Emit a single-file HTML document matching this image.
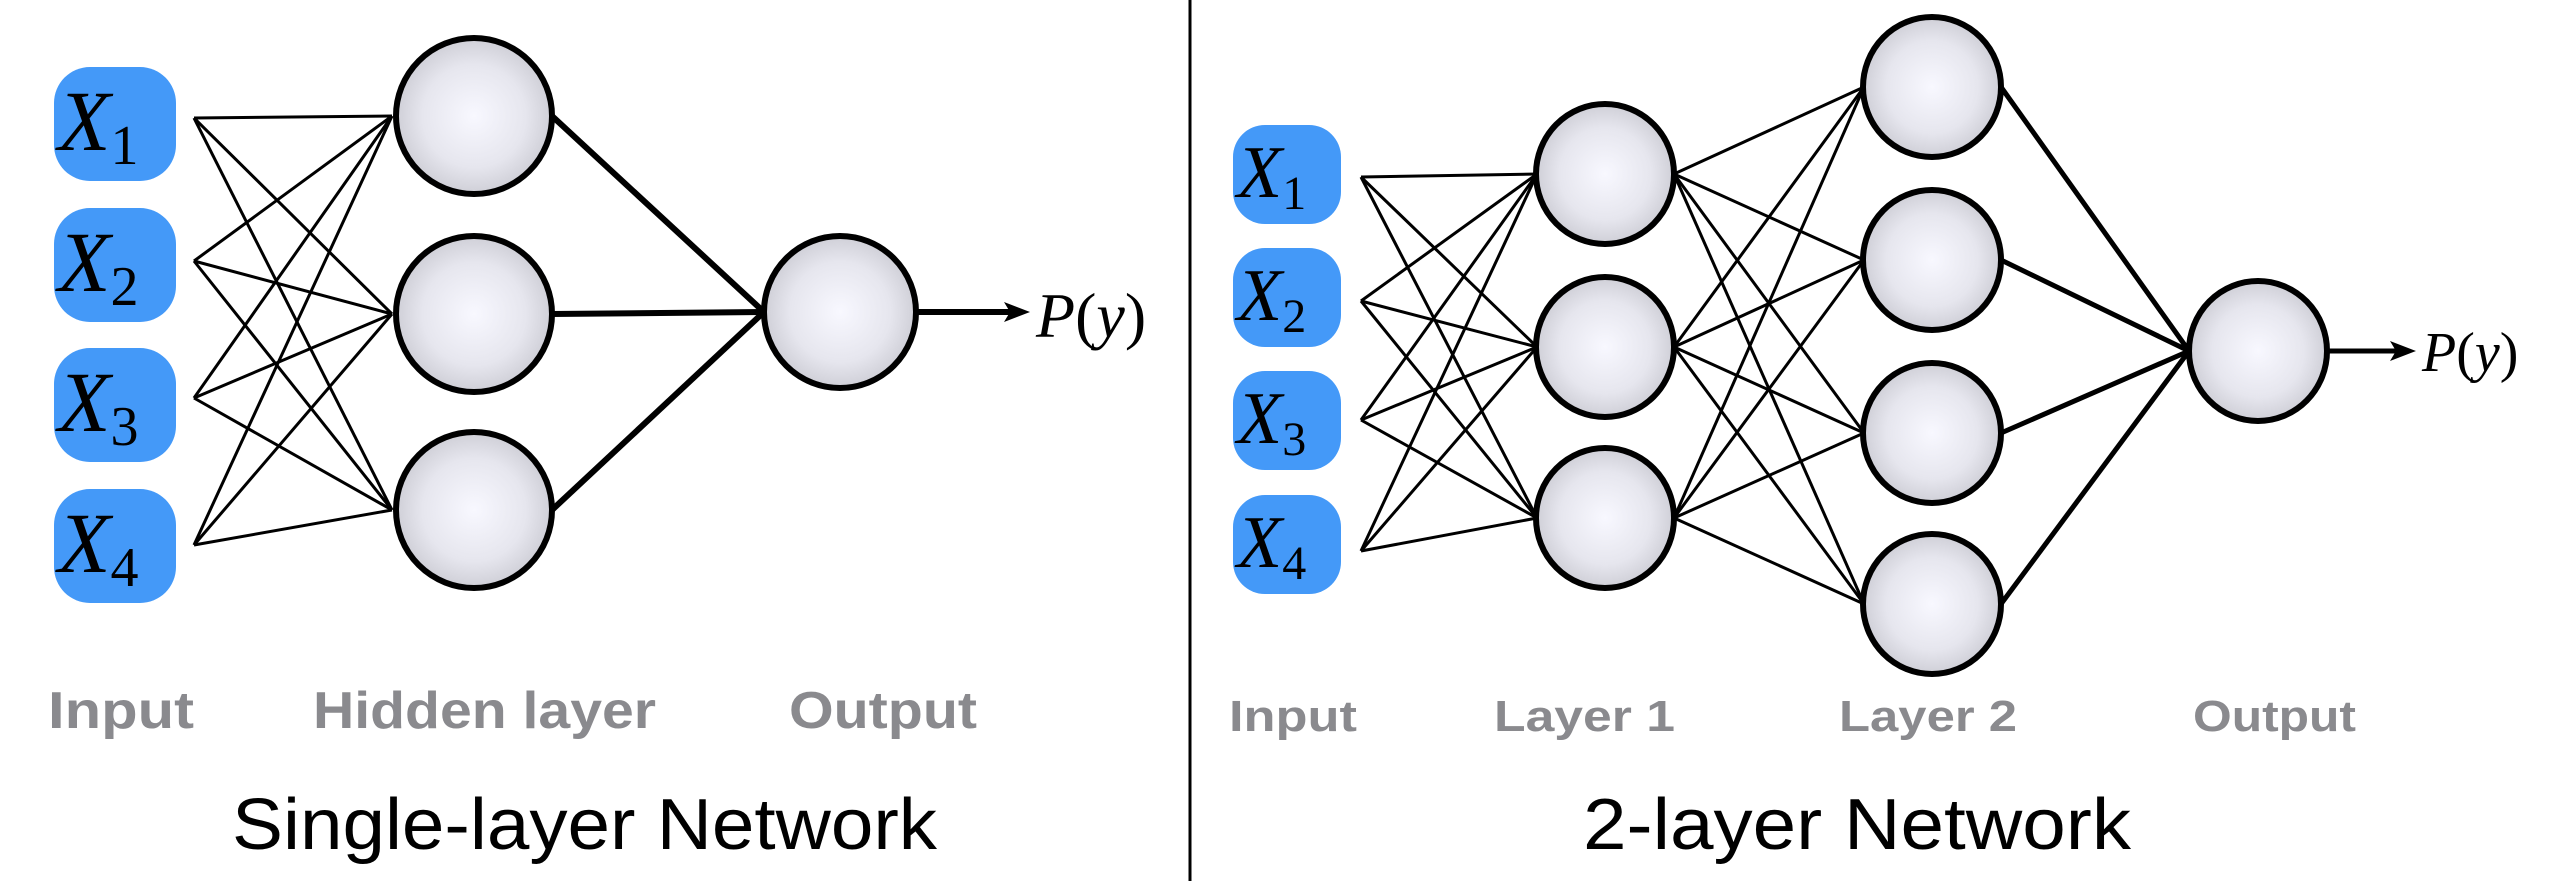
<!DOCTYPE html>
<html><head><meta charset="utf-8"><style>html,body{margin:0;padding:0;background:#fff}svg{display:block}</style></head>
<body>
<svg width="2552" height="881" viewBox="0 0 2552 881" xmlns="http://www.w3.org/2000/svg">
<defs>
<radialGradient id="g" cx="50%" cy="50%" r="55%">
<stop offset="0" stop-color="#f8f8ff"/><stop offset="0.6" stop-color="#e6e6ee"/><stop offset="1" stop-color="#c8c8d0"/>
</radialGradient>
</defs>
<rect width="2552" height="881" fill="#fff"/>
<line x1="1190" y1="0" x2="1190" y2="881" stroke="#000" stroke-width="3"/>

<!-- LEFT network -->
<g fill="#4499f8">
<rect x="54" y="67" width="122" height="114" rx="36"/>
<rect x="54" y="208" width="122" height="114" rx="36"/>
<rect x="54" y="348" width="122" height="114" rx="36"/>
<rect x="54" y="489" width="122" height="114" rx="36"/>
</g>
<g font-family="Liberation Serif, serif" fill="#000">
<text x="58" y="150" font-size="86" font-style="italic">X<tspan font-style="normal" font-size="56" dy="14">1</tspan></text>
<text x="58" y="291" font-size="86" font-style="italic">X<tspan font-style="normal" font-size="56" dy="14">2</tspan></text>
<text x="58" y="431" font-size="86" font-style="italic">X<tspan font-style="normal" font-size="56" dy="14">3</tspan></text>
<text x="58" y="572" font-size="86" font-style="italic">X<tspan font-style="normal" font-size="56" dy="14">4</tspan></text>
</g>
<g stroke="#000" stroke-width="3">
<line x1="194" y1="118" x2="392" y2="116"/><line x1="194" y1="118" x2="392" y2="314"/><line x1="194" y1="118" x2="392" y2="510"/>
<line x1="194" y1="261" x2="392" y2="116"/><line x1="194" y1="261" x2="392" y2="314"/><line x1="194" y1="261" x2="392" y2="510"/>
<line x1="194" y1="398" x2="392" y2="116"/><line x1="194" y1="398" x2="392" y2="314"/><line x1="194" y1="398" x2="392" y2="510"/>
<line x1="194" y1="545" x2="392" y2="116"/><line x1="194" y1="545" x2="392" y2="314"/><line x1="194" y1="545" x2="392" y2="510"/>
</g>
<g stroke="#000" stroke-width="6">
<line x1="552" y1="116" x2="764" y2="312"/><line x1="552" y1="314" x2="764" y2="312"/><line x1="552" y1="510" x2="764" y2="312"/>
<line x1="916" y1="312" x2="1010" y2="312"/>
</g>
<polygon points="1030,312 1004,302 1010,312 1004,322" fill="#000"/>
<g fill="url(#g)" stroke="#000" stroke-width="6">
<ellipse cx="474" cy="116" rx="78" ry="78"/>
<ellipse cx="474" cy="314" rx="78" ry="78"/>
<ellipse cx="474" cy="510" rx="78" ry="78"/>
<ellipse cx="840" cy="312" rx="76" ry="76"/>
</g>
<text x="1036" y="337" font-family="Liberation Serif, serif" font-size="64" font-style="italic">P<tspan font-style="normal">(</tspan>y<tspan font-style="normal">)</tspan></text>
<g font-family="Liberation Sans, sans-serif" font-weight="bold" font-size="52" fill="#8a8a8e">
<text x="48" y="728" textLength="146" lengthAdjust="spacingAndGlyphs">Input</text>
<text x="313" y="728" textLength="343" lengthAdjust="spacingAndGlyphs">Hidden layer</text>
<text x="789" y="728" textLength="188" lengthAdjust="spacingAndGlyphs">Output</text>
</g>
<text x="232" y="849" font-family="Liberation Sans, sans-serif" font-size="72" textLength="705" lengthAdjust="spacingAndGlyphs">Single-layer Network</text>

<!-- RIGHT network -->
<g fill="#4499f8">
<rect x="1233" y="125" width="108" height="99" rx="32"/>
<rect x="1233" y="248" width="108" height="99" rx="32"/>
<rect x="1233" y="371" width="108" height="99" rx="32"/>
<rect x="1233" y="495" width="108" height="99" rx="32"/>
</g>
<g font-family="Liberation Serif, serif" fill="#000">
<text x="1237" y="197" font-size="74" font-style="italic">X<tspan font-style="normal" font-size="48" dy="12">1</tspan></text>
<text x="1237" y="320" font-size="74" font-style="italic">X<tspan font-style="normal" font-size="48" dy="12">2</tspan></text>
<text x="1237" y="443" font-size="74" font-style="italic">X<tspan font-style="normal" font-size="48" dy="12">3</tspan></text>
<text x="1237" y="567" font-size="74" font-style="italic">X<tspan font-style="normal" font-size="48" dy="12">4</tspan></text>
</g>
<g stroke="#000" stroke-width="3">
<line x1="1361" y1="177" x2="1537" y2="174"/><line x1="1361" y1="177" x2="1537" y2="347"/><line x1="1361" y1="177" x2="1537" y2="518"/>
<line x1="1361" y1="301" x2="1537" y2="174"/><line x1="1361" y1="301" x2="1537" y2="347"/><line x1="1361" y1="301" x2="1537" y2="518"/>
<line x1="1361" y1="420" x2="1537" y2="174"/><line x1="1361" y1="420" x2="1537" y2="347"/><line x1="1361" y1="420" x2="1537" y2="518"/>
<line x1="1361" y1="551" x2="1537" y2="174"/><line x1="1361" y1="551" x2="1537" y2="347"/><line x1="1361" y1="551" x2="1537" y2="518"/>
<line x1="1674" y1="174" x2="1864" y2="87"/><line x1="1674" y1="174" x2="1864" y2="260"/><line x1="1674" y1="174" x2="1864" y2="433"/><line x1="1674" y1="174" x2="1864" y2="604"/>
<line x1="1674" y1="347" x2="1864" y2="87"/><line x1="1674" y1="347" x2="1864" y2="260"/><line x1="1674" y1="347" x2="1864" y2="433"/><line x1="1674" y1="347" x2="1864" y2="604"/>
<line x1="1674" y1="518" x2="1864" y2="87"/><line x1="1674" y1="518" x2="1864" y2="260"/><line x1="1674" y1="518" x2="1864" y2="433"/><line x1="1674" y1="518" x2="1864" y2="604"/>
</g>
<g stroke="#000" stroke-width="5">
<line x1="2001" y1="87" x2="2189" y2="351"/><line x1="2001" y1="260" x2="2189" y2="351"/><line x1="2001" y1="433" x2="2189" y2="351"/><line x1="2001" y1="604" x2="2189" y2="351"/>
<line x1="2326" y1="351" x2="2398" y2="351"/>
</g>
<polygon points="2416,351 2390,341 2396,351 2390,361" fill="#000"/>
<g fill="url(#g)" stroke="#000" stroke-width="6">
<ellipse cx="1605" cy="174" rx="69" ry="70"/>
<ellipse cx="1605" cy="347" rx="69" ry="70"/>
<ellipse cx="1605" cy="518" rx="69" ry="70"/>
<ellipse cx="1932" cy="87" rx="69" ry="70"/>
<ellipse cx="1932" cy="260" rx="69" ry="70"/>
<ellipse cx="1932" cy="433" rx="69" ry="70"/>
<ellipse cx="1932" cy="604" rx="69" ry="70"/>
<ellipse cx="2258" cy="351" rx="69" ry="70"/>
</g>
<text x="2422" y="371" font-family="Liberation Serif, serif" font-size="56" font-style="italic">P<tspan font-style="normal">(</tspan>y<tspan font-style="normal">)</tspan></text>
<g font-family="Liberation Sans, sans-serif" font-weight="bold" font-size="44" fill="#8a8a8e">
<text x="1229" y="731" textLength="128" lengthAdjust="spacingAndGlyphs">Input</text>
<text x="1494" y="731" textLength="181" lengthAdjust="spacingAndGlyphs">Layer  1</text>
<text x="1839" y="731" textLength="178" lengthAdjust="spacingAndGlyphs">Layer  2</text>
<text x="2193" y="731" textLength="163" lengthAdjust="spacingAndGlyphs">Output</text>
</g>
<text x="1583" y="849" font-family="Liberation Sans, sans-serif" font-size="72" textLength="548" lengthAdjust="spacingAndGlyphs">2-layer Network</text>
</svg>
</body></html>
